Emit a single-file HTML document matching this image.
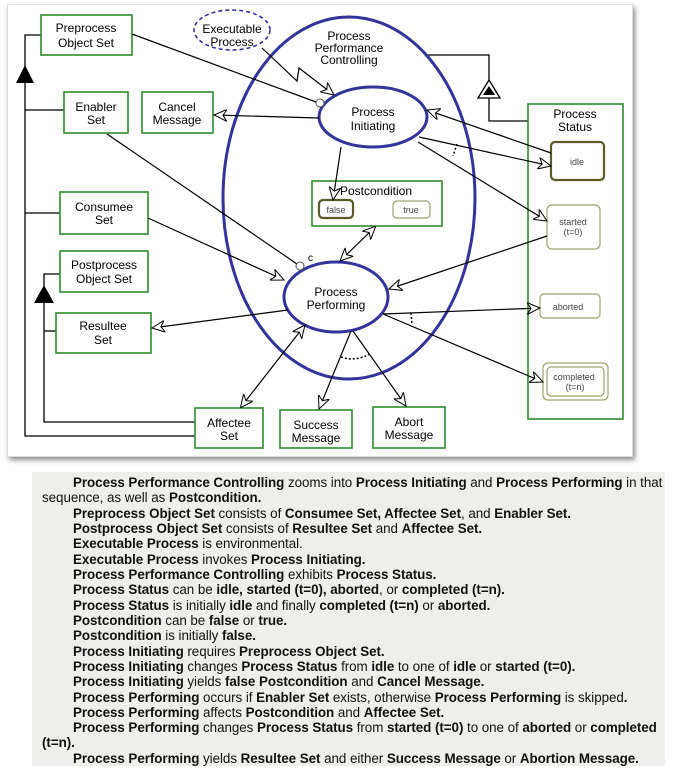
<!DOCTYPE html>
<html><head><meta charset="utf-8">
<style>
body{margin:0;width:674px;height:769px;background:#fff;position:relative;overflow:hidden;font-family:"Liberation Sans",Arial,sans-serif}
#frame{position:absolute;left:7px;top:4px;width:626px;height:453px;background:#fff;box-shadow:2px 3px 5px rgba(0,0,0,.45);border:1px solid #ddd;box-sizing:border-box}
svg{position:absolute;left:0;top:0}
#txt{position:absolute;left:32px;top:472px;width:633px;height:294px;background:#eeeeec}
.l{position:absolute;left:41px;white-space:nowrap;font-size:13.4px;letter-spacing:-0.05px;color:#111;line-height:15px}
.l b{font-weight:bold}
</style></head><body>
<div id="frame"></div>
<svg width="674" height="470" viewBox="0 0 674 470" font-family="Liberation Sans, Arial, sans-serif">
<defs>
<marker id="oa" markerWidth="14" markerHeight="12" refX="13" refY="6" orient="auto" markerUnits="userSpaceOnUse">
<path d="M0,0 L13,6 L0,12 L4,6 Z" fill="#fff" stroke="#000" stroke-width="1"/></marker>
<marker id="ob" markerWidth="14" markerHeight="12" refX="1" refY="6" orient="auto" markerUnits="userSpaceOnUse">
<path d="M13,0 L0,6 L13,12 L9,6 Z" fill="#fff" stroke="#000" stroke-width="1"/></marker>
</defs>
<g fill="none" stroke="#000" stroke-width="1.3">
<polyline points="41,35 25,35 25,436 195,436"/>
<line x1="25" y1="110" x2="64" y2="110"/>
<line x1="25" y1="213" x2="60" y2="213"/>
<polyline points="60,274 44,274 44,422 195,422"/>
<line x1="44" y1="331" x2="56" y2="331"/>
<polyline points="428,55 489,55 489,121 528,121"/>
</g>
<polygon points="25,65 16,83 34,83" fill="#000"/>
<polygon points="44,285 34,303 54,303" fill="#000"/>
<polygon points="489,80 478,98 500,98" fill="#fff" stroke="#000" stroke-width="1.3"/>
<polygon points="489,86 483,95 495,95" fill="#000"/>

<ellipse cx="349" cy="198" rx="126" ry="181" fill="none" stroke="#333399" stroke-width="3"/>
<text x="349" y="40" font-size="12" text-anchor="middle">Process</text>
<text x="349" y="52" font-size="12" text-anchor="middle">Performance</text>
<text x="349" y="64" font-size="12" text-anchor="middle">Controlling</text>

<ellipse cx="232" cy="30" rx="38" ry="20" fill="#fff" stroke="#333399" stroke-width="1.6" stroke-dasharray="4,3"/>
<text x="232" y="33" font-size="12" text-anchor="middle">Executable</text>
<text x="232" y="46" font-size="12" text-anchor="middle">Process</text>

<g fill="#fff" stroke="#2e8b2e" stroke-width="1.6">
<rect x="41" y="15" width="91" height="40"/>
<rect x="64" y="92" width="64" height="41"/>
<rect x="142" y="92" width="71" height="41"/>
<rect x="60" y="192" width="88" height="42"/>
<rect x="60" y="251" width="88" height="41"/>
<rect x="56" y="313" width="95" height="40"/>
<rect x="195" y="408" width="68" height="40"/>
<rect x="280" y="410" width="72" height="38"/>
<rect x="373" y="407" width="72" height="41"/>
<rect x="312" y="181" width="130" height="45"/>
<rect x="528" y="104" width="95" height="315"/>
</g>
<g font-size="12" text-anchor="middle" fill="#000">
<text x="86" y="32">Preprocess</text><text x="86" y="47">Object Set</text>
<text x="96" y="111">Enabler</text><text x="96" y="124">Set</text>
<text x="177" y="111">Cancel</text><text x="177" y="124">Message</text>
<text x="104" y="211">Consumee</text><text x="104" y="224">Set</text>
<text x="104" y="269">Postprocess</text><text x="104" y="283">Object Set</text>
<text x="103" y="330">Resultee</text><text x="103" y="344">Set</text>
<text x="229" y="427">Affectee</text><text x="229" y="440">Set</text>
<text x="316" y="429">Success</text><text x="316" y="442">Message</text>
<text x="409" y="426">Abort</text><text x="409" y="439">Message</text>
<text x="376" y="195">Postcondition</text>
<text x="575" y="118">Process</text><text x="575" y="131">Status</text>
</g>
<rect x="319" y="200" width="34" height="18" rx="4" fill="#fff" stroke="#5a5a2a" stroke-width="2.2"/>
<rect x="393" y="201" width="37" height="17" rx="4" fill="#fff" stroke="#a0a070" stroke-width="1.2"/>
<rect x="551" y="142" width="53" height="38" rx="4" fill="#fff" stroke="#5a5a2a" stroke-width="2.2"/>
<rect x="547" y="205" width="53" height="44" rx="5" fill="#fff" stroke="#a0a070" stroke-width="1.2"/>
<rect x="540" y="294" width="60" height="24" rx="4" fill="#fff" stroke="#a0a070" stroke-width="1.2"/>
<rect x="543" y="363" width="65" height="37" rx="5" fill="#fff" stroke="#a0a070" stroke-width="1.2"/>
<rect x="547" y="367" width="57" height="29" rx="4" fill="none" stroke="#a0a070" stroke-width="1.2"/>
<g font-size="9" fill="#444" text-anchor="middle">
<text x="336" y="213">false</text><text x="411" y="213">true</text>
<text x="577" y="165">idle</text>
<text x="573" y="225">started</text><text x="573" y="235">(t=0)</text>
<text x="568" y="310">aborted</text>
<text x="574" y="380">completed</text><text x="575" y="390">(t=n)</text>
</g>

<ellipse cx="373" cy="117" rx="54" ry="30" fill="#fff" stroke="#333399" stroke-width="3"/>
<text x="373" y="116" font-size="12" text-anchor="middle">Process</text>
<text x="373" y="130" font-size="12" text-anchor="middle">Initiating</text>
<ellipse cx="336" cy="297" rx="52" ry="35" fill="#fff" stroke="#333399" stroke-width="3"/>
<text x="336" y="296" font-size="12" text-anchor="middle">Process</text>
<text x="336" y="309" font-size="12" text-anchor="middle">Performing</text>

<g fill="none" stroke="#000" stroke-width="1.2">
<line x1="132" y1="34" x2="316" y2="102"/>
<polyline points="262,48 297,81 299,68 334,95" marker-end="url(#oa)"/>
<line x1="319" y1="118" x2="214" y2="115" marker-end="url(#oa)"/>
<line x1="341" y1="147" x2="333" y2="200" marker-end="url(#oa)"/>
<line x1="107" y1="134" x2="297" y2="264"/>
<line x1="148" y1="218" x2="284" y2="280" marker-end="url(#oa)"/>
<line x1="288" y1="310" x2="152" y2="328" marker-end="url(#oa)"/>
<line x1="241" y1="407" x2="305" y2="325" marker-end="url(#oa)" marker-start="url(#ob)"/>
<line x1="375" y1="227" x2="340" y2="261" marker-end="url(#oa)" marker-start="url(#ob)"/>
<line x1="351" y1="331" x2="319" y2="409" marker-end="url(#oa)"/>
<line x1="353" y1="331" x2="406" y2="406" marker-end="url(#oa)"/>
<line x1="419" y1="137" x2="551" y2="166" marker-end="url(#oa)"/>
<line x1="551" y1="153" x2="427" y2="110" marker-end="url(#oa)"/>
<line x1="418" y1="142" x2="547" y2="221" marker-end="url(#oa)"/>
<line x1="547" y1="236" x2="389" y2="289" marker-end="url(#oa)"/>
<line x1="383" y1="314" x2="540" y2="308" marker-end="url(#oa)"/>
<line x1="383" y1="314" x2="543" y2="382" marker-end="url(#oa)"/>
</g>
<g fill="none" stroke="#000" stroke-width="1.5" stroke-dasharray="2,2">
<path d="M341,357 Q355,362 370,354"/>
<path d="M411,313 L412,325"/>
<path d="M457,144 L453,156"/>
</g>
<circle cx="320" cy="103" r="4" fill="#fff" stroke="#555" stroke-width="1"/>
<circle cx="300" cy="266" r="4" fill="#fff" stroke="#555" stroke-width="1"/>
<text x="308" y="261" font-size="10">c</text>
</svg>

<div id="txt"></div>
<div class="l" style="top:475px;left:73px"><b>Process Performance Controlling</b> zooms into <b>Process Initiating</b> and <b>Process Performing</b> in that</div>
<div class="l" style="top:490px;left:42px">sequence, as well as <b>Postcondition.</b></div>
<div class="l" style="top:506px;left:73px"><b>Preprocess Object Set</b> consists of <b>Consumee Set, Affectee Set</b>, and <b>Enabler Set.</b></div>
<div class="l" style="top:521px;left:73px"><b>Postprocess Object Set</b> consists of <b>Resultee Set</b> and <b>Affectee Set.</b></div>
<div class="l" style="top:536px;left:73px"><b>Executable Process</b> is environmental.</div>
<div class="l" style="top:552px;left:73px"><b>Executable Process</b> invokes <b>Process Initiating.</b></div>
<div class="l" style="top:567px;left:73px"><b>Process Performance Controlling</b> exhibits <b>Process Status.</b></div>
<div class="l" style="top:582px;left:73px"><b>Process Status</b> can be <b>idle, started (t=0), aborted</b>, or <b>completed (t=n).</b></div>
<div class="l" style="top:598px;left:73px"><b>Process Status</b> is initially <b>idle</b> and finally <b>completed (t=n)</b> or <b>aborted.</b></div>
<div class="l" style="top:613px;left:73px"><b>Postcondition</b> can be <b>false</b> or <b>true.</b></div>
<div class="l" style="top:628px;left:73px"><b>Postcondition</b> is initially <b>false.</b></div>
<div class="l" style="top:644px;left:73px"><b>Process Initiating</b> requires <b>Preprocess Object Set.</b></div>
<div class="l" style="top:659px;left:73px"><b>Process Initiating</b> changes <b>Process Status</b> from <b>idle</b> to one of <b>idle</b> or <b>started (t=0).</b></div>
<div class="l" style="top:674px;left:73px"><b>Process Initiating</b> yields <b>false Postcondition</b> and <b>Cancel Message.</b></div>
<div class="l" style="top:690px;left:73px"><b>Process Performing</b> occurs if <b>Enabler Set</b> exists, otherwise <b>Process Performing</b> is skipped<b>.</b></div>
<div class="l" style="top:705px;left:73px"><b>Process Performing</b> affects <b>Postcondition</b> and <b>Affectee Set.</b></div>
<div class="l" style="top:720px;left:73px"><b>Process Performing</b> changes <b>Process Status</b> from <b>started (t=0)</b> to one of <b>aborted</b> or <b>completed</b></div>
<div class="l" style="top:735px;left:42px"><b>(t=n).</b></div>
<div class="l" style="top:751px;left:73px"><b>Process Performing</b> yields <b>Resultee Set</b> and either <b>Success Message</b> or <b>Abortion Message.</b></div>
</body></html>
